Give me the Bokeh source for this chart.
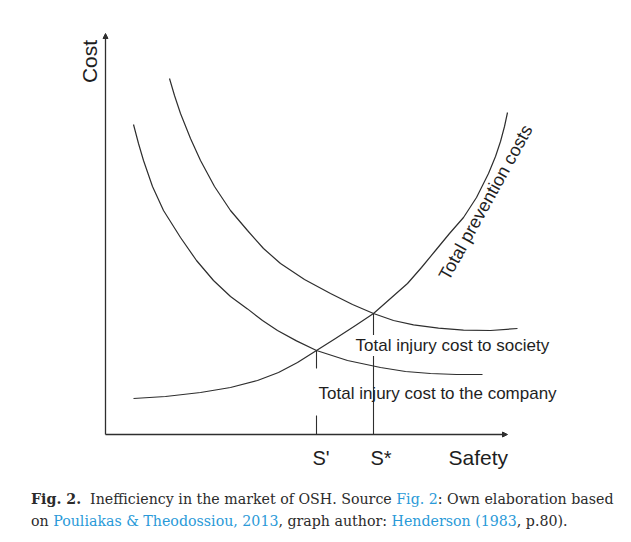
from bokeh.plotting import figure
from bokeh.models import Label, Arrow, NormalHead, Div
from bokeh.layouts import column
from bokeh.embed import file_html
from bokeh.resources import INLINE
import math

# ---- data (Safety on x, Cost on y, 0-100 units) ----
prev_x = [7.0, 15.0, 23.75, 31.25, 38.0, 43.25, 48.0, 52.75, 57.5, 62.5, 67.0,
          71.25, 75.5, 79.0, 82.5, 86.0, 89.5, 92.75, 95.75, 97.5, 98.75, 99.75, 100.5]
prev_y = [9.0, 9.5, 10.5, 11.75, 13.5, 15.5, 18.0, 21.0, 24.0, 27.25, 30.25,
          34.0, 37.75, 41.75, 46.0, 50.25, 54.25, 59.25, 65.25, 69.5, 73.25, 77.0, 80.5]

company_x = [7.0, 8.25, 9.5, 11.75, 14.5, 18.75, 22.75, 27.0, 31.25, 35.5, 39.25,
             43.0, 47.75, 52.75, 60.5, 68.75, 75.0, 81.25, 87.75, 94.25]
company_y = [77.5, 72.75, 68.5, 62.0, 56.0, 49.25, 43.5, 38.5, 34.5, 31.4, 28.5,
             26.0, 23.4, 21.0, 18.5, 16.75, 15.75, 15.25, 15.0, 15.0]

society_x = [16.0, 17.25, 18.75, 21.25, 23.75, 27.25, 31.25, 35.5, 39.5, 43.75,
             49.75, 56.25, 61.75, 67.0, 72.0, 77.0, 83.25, 89.5, 96.25, 103.0]
society_y = [89.0, 84.75, 80.25, 74.0, 68.5, 62.0, 56.0, 51.0, 46.5, 42.75,
             38.75, 35.25, 32.5, 30.25, 28.5, 27.4, 26.6, 26.1, 26.0, 26.5]

s_labels = ["S'", "S*"]
s_values = [52.75, 67.0]
s_costs = [21.0, 30.25]

curve_labels = ["Total prevention  costs", "Total injury cost to society",
                "Total injury cost to the company"]
axis_labels = ["Safety", "Cost"]
x_axis_end = 100.5
y_axis_end = 100.25

W, H = 631, 475
p = figure(width=W, height=H, output_backend="svg", toolbar_location=None,
           x_range=(-105 / 4, (W - 105) / 4), y_range=((434 - H) / 4, 434 / 4),
           min_border=0)
p.axis.visible = False
p.grid.visible = False
p.outline_line_color = None
p.background_fill_color = "white"

ink = "#2e2e2e"
txt = "#1e1e1e"
font = "Liberation Sans"

# axes with arrows
for xe, ye in [(x_axis_end, 0), (0, y_axis_end)]:
    p.add_layout(Arrow(end=NormalHead(size=5, fill_color=ink, line_color=ink),
                       x_start=0, y_start=0, x_end=xe, y_end=ye,
                       line_color=ink, line_width=1.3))

# curves
for xs, ys in [(prev_x, prev_y), (company_x, company_y), (society_x, society_y)]:
    p.line(xs, ys, line_color=ink, line_width=1.2, line_join="round")

# vertical lines at S' and S*
p.segment(x0=[s_values[0], s_values[0]], y0=[0, 16.5],
          x1=[s_values[0], s_values[0]], y1=[4.75, s_costs[0]],
          line_color=ink, line_width=1.1)
p.segment(x0=[s_values[1]], y0=[0], x1=[s_values[1]], y1=[s_costs[1]],
          line_color=ink, line_width=1.1)

# curve labels
p.add_layout(Label(x=84.5, y=39.0, text=curve_labels[0], angle=math.radians(61),
                   text_font=font, text_font_size="18px", text_color=txt,
                   text_baseline="alphabetic", text_align="left"))
p.add_layout(Label(x=62.25, y=22.25, text=curve_labels[1],
                   text_font=font, text_font_size="17px", text_color=txt,
                   text_baseline="alphabetic", text_align="left",
                   background_fill_color="white", padding=1))
p.add_layout(Label(x=53.25, y=10.25, text=curve_labels[2],
                   text_font=font, text_font_size="17px", text_color=txt,
                   text_baseline="alphabetic", text_align="left"))

# S labels
for lab, xv in zip(s_labels, [51.75, 66.25]):
    p.add_layout(Label(x=xv, y=-5.75, text=lab, text_font=font,
                       text_font_size="20px", text_color=txt,
                       text_baseline="alphabetic", text_align="left"))

# axis titles
p.add_layout(Label(x=85.75, y=-5.75, text=axis_labels[0], text_font=font,
                   text_font_size="21px", text_color=txt,
                   text_baseline="alphabetic", text_align="left"))
p.add_layout(Label(x=-4.0, y=93.25, text=axis_labels[1], text_font=font,
                   text_font_size="21px", text_color=txt, angle=math.pi / 2,
                   text_baseline="middle", text_align="center"))

link = "color:#2a9ad8;"
caption_html = (
    '<div style="font-family:\'DejaVu Serif\';font-size:14.2px;line-height:22px;'
    'color:#2b2b2b;padding-left:31px;padding-top:13px;">'
    '<b>Fig. 2.</b>&nbsp; Inefficiency in the market of OSH. Source '
    f'<span style="{link}">Fig. 2</span>: Own elaboration based<br>'
    f'on <span style="{link}">Pouliakas &amp; Theodossiou, 2013</span>, graph author: '
    f'<span style="{link}">Henderson (1983</span>, p.80).</div>'
)
cap = Div(text=caption_html, width=W, height=542 - H, margin=(0, 0, 0, 0))

layout = column(p, cap, spacing=0)
open("out.html", "w").write(file_html(layout, INLINE))
